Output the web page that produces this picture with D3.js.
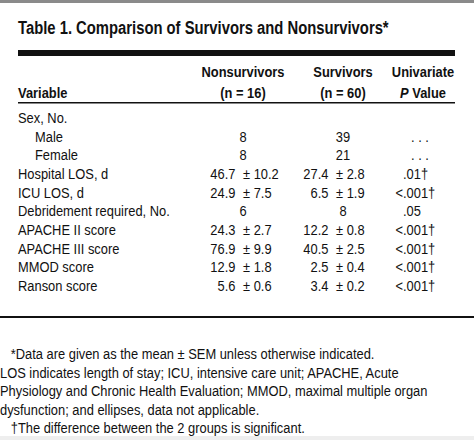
<!DOCTYPE html>
<html><head><meta charset="utf-8">
<script src="https://cdn.jsdelivr.net/npm/d3@7"></script>
<style>body{margin:0;background:#fff}text{font-family:"Liberation Sans",Arial,sans-serif;fill:#111}</style>
</head><body><div id="chart"></div>
<script>
const variables = ["Sex, No.", "Male", "Female", "Hospital LOS, d", "ICU LOS, d", "Debridement required, No.", "APACHE II score", "APACHE III score", "MMOD score", "Ranson score"];
const indented = [false, true, true, false, false, false, false, false, false, false];
const nonsurvivors = ["", "8", "8", "46.7 ± 10.2", "24.9 ± 7.5", "6", "24.3 ± 2.7", "76.9 ± 9.9", "12.9 ± 1.8", "5.6 ± 0.6"];
const survivors = ["", "39", "21", "27.4 ± 2.8", "6.5 ± 1.9", "8", "12.2 ± 0.8", "40.5 ± 2.5", "2.5 ± 0.4", "3.4 ± 0.2"];
const pValues = ["", ". . .", ". . .", ".01†", "<.001†", ".05", "<.001†", "<.001†", "<.001†", "<.001†"];
const footnotes = [
  "   *Data are given as the mean ± SEM unless otherwise indicated.",
  "LOS indicates length of stay; ICU, intensive care unit; APACHE, Acute",
  "Physiology and Chronic Health Evaluation; MMOD, maximal multiple organ",
  "dysfunction; and ellipses, data not applicable.",
  "   †The difference between the 2 groups is significant."
];

const width = 474, height = 440;
const svg = d3.select("#chart").append("svg").attr("width", width).attr("height", height);

// condensed text: squeeze horizontally around its anchor point
function t(parent, x, y, str, anchor = "start", k = 0.86) {
  return parent.append("text")
    .attr("transform", `translate(${x},${y}) scale(${k},1)`)
    .attr("text-anchor", anchor)
    .style("white-space", "pre")
    .text(str);
}

svg.append("rect").attr("width", width).attr("height", 3).attr("fill", "#8a8a8a");
svg.append("rect").attr("y", 436).attr("width", width).attr("height", 4).attr("fill", "#eeeeee");

t(svg, 18, 34, "Table 1. Comparison of Survivors and Nonsurvivors*", "start", 0.78)
  .attr("font-size", 19).attr("font-weight", "bold");

svg.append("rect").attr("x", 18).attr("y", 50).attr("width", 437).attr("height", 6).attr("fill", "#111");
svg.append("rect").attr("x", 18).attr("y", 102).attr("width", 437).attr("height", 1.5).attr("fill", "#111");
svg.append("rect").attr("x", 0).attr("y", 316).attr("width", 474).attr("height", 2).attr("fill", "#111");

// header
const hdr = svg.append("g").attr("font-size", 15).attr("font-weight", "bold");
t(hdr, 18, 98, "Variable");
[[243, "Nonsurvivors", "(n = 16)"], [343, "Survivors", "(n = 60)"]].forEach(([x, a, b]) => {
  t(hdr, x, 77, a, "middle");
  t(hdr, x, 98, b, "middle");
});
t(hdr, 423, 77, "Univariate", "middle");
const pv = t(hdr, 423, 98, "", "middle");
pv.append("tspan").attr("font-style", "italic").text("P");
pv.append("tspan").text(" Value");

const y = d3.scalePoint().domain(d3.range(variables.length)).range([118, 286]);

const rows = svg.append("g").attr("font-size", 15);
function pm(x, v, cx, yy) {
  if (!v) return;
  if (v.includes("±")) {
    const [a, b] = v.split("±");
    t(rows, x - 1, yy, a.trim() + " ", "end");
    t(rows, x + 3, yy, "± " + b.trim());
    return;
  }
  t(rows, cx, yy, v, "middle");
}
variables.forEach((v, i) => {
  const yy = y(i) + 5;
  t(rows, indented[i] ? 35 : 18, yy, v);
  pm(240, nonsurvivors[i], 243, yy);
  pm(333, survivors[i], 343, yy);
  const p = pValues[i];
  if (p.startsWith("<")) {
    t(rows, 403, yy, "<", "end");
    t(rows, 403, yy, p.slice(1));
  } else if (p.startsWith(". ")) {
    t(rows, 420, yy, p, "middle");
  } else if (p) {
    t(rows, 403, yy, p);
  }
});

const fy = d3.scalePoint().domain(d3.range(footnotes.length)).range([354, 428]);
const foot = svg.append("g").attr("font-size", 15);
footnotes.forEach((f, i) => t(foot, 0, fy(i) + 5, f));
</script></body></html>
